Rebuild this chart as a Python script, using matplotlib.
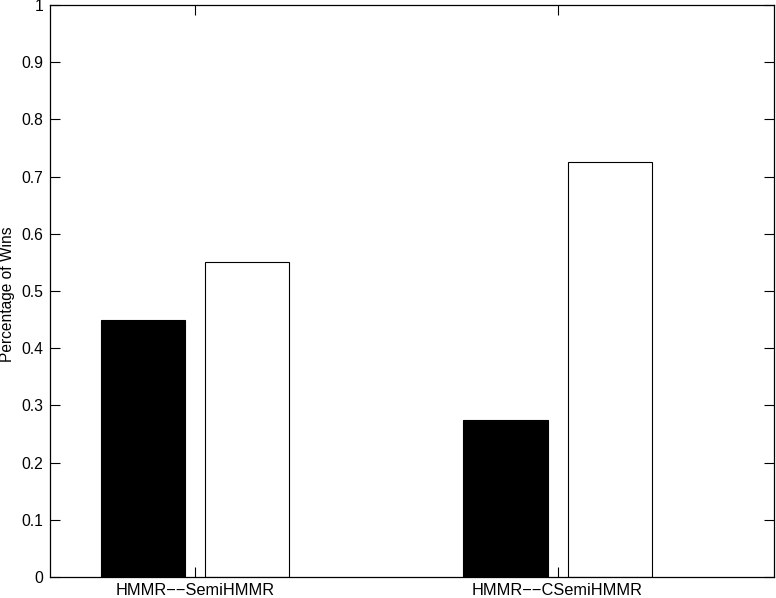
import matplotlib
matplotlib.use('Agg')
import matplotlib.pyplot as plt
import numpy as np

plt.rcParams['font.family'] = ['Liberation Sans', 'DejaVu Sans']

groups = ['HMMR\u2212\u2212SemiHMMR', 'HMMR\u2212\u2212CSemiHMMR']
first_wins = [0.45, 0.275]
second_wins = [0.55, 0.725]
yticks = [0, 0.1, 0.2, 0.3, 0.4, 0.5, 0.6, 0.7, 0.8, 0.9, 1]
ytick_labels = ['0', '0.1', '0.2', '0.3', '0.4', '0.5', '0.6', '0.7', '0.8', '0.9', '1']

x = np.arange(1, len(groups) + 1)
w = 0.232
off = 0.1435

fig = plt.figure(figsize=(7.76, 5.98), dpi=100)
ax = fig.add_axes([50 / 776, 21 / 598, 724 / 776, 572 / 598])
ax.bar(x - off, first_wins, w, color='black', edgecolor='black', linewidth=0.8)
ax.bar(x + off, second_wins, w, color='white', edgecolor='black', linewidth=0.8)

ax.set_xlim(0.6, 2.597)
ax.set_ylim(0, 1)
ax.set_xticks(x)
ax.set_xticklabels(groups)
ax.set_yticks(yticks)
ax.set_yticklabels(ytick_labels)
ax.tick_params(direction='in', top=True, right=True, length=7, width=0.8,
               labelsize=11.3, pad=5)
ax.tick_params(axis='x', labelsize=11.8, pad=4)
for s in ax.spines.values():
    s.set_linewidth(0.9)

# y label placed by hand so it sits against the left edge like the original
fig.text(8 / 776, (598 - 294) / 598, 'Percentage of Wins', rotation=90,
         ha='center', va='center', fontsize=11.2)

fig.savefig('out.png', dpi=100)
